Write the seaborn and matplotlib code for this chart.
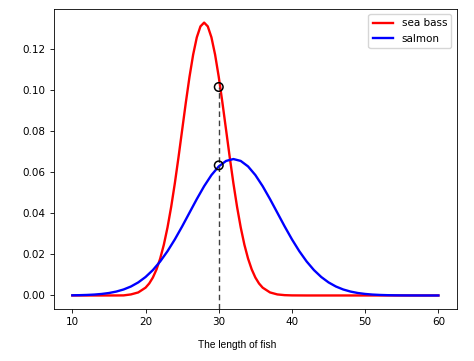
import numpy as np
import pandas as pd
import matplotlib
matplotlib.use("Agg")
import matplotlib.pyplot as plt
import seaborn as sns

# values
bass_x = [10, 12, 14, 16, 17, 18, 19, 20, 20.5, 21, 21.5, 22, 22.5, 23, 23.5, 24, 24.5,
          25, 25.5, 26, 26.5, 27, 27.5, 28, 28.5, 29, 29.5, 30, 30.5, 31, 31.5, 32,
          32.5, 33, 33.5, 34, 34.5, 35, 35.5, 36, 37, 38, 39, 40, 42, 44, 50, 60]
bass_y = [0.0, 0.0, 0.0, 0.00001, 0.00004, 0.00051, 0.00148, 0.0038, 0.00584, 0.00874,
          0.01272, 0.018, 0.02476, 0.03316, 0.04318, 0.05467, 0.06733, 0.08066, 0.09397,
          0.10648, 0.11735, 0.12579, 0.13114, 0.13298, 0.13114, 0.12579, 0.11735, 0.10648,
          0.09397, 0.08066, 0.06733, 0.05467, 0.04318, 0.03316, 0.02476, 0.018, 0.01272,
          0.00874, 0.00584, 0.0038, 0.00148, 0.00051, 0.00016, 0.00004, 0.0, 0.0, 0.0, 0.0]

salmon_x = list(range(10, 61))
salmon_y = [0.00008, 0.00015, 0.00026, 0.00044, 0.00074, 0.0012, 0.0019, 0.00292, 0.00437,
            0.00636, 0.009, 0.01238, 0.01658, 0.02159, 0.02733, 0.03366, 0.04033, 0.04698,
            0.05324, 0.05868, 0.0629, 0.06557, 0.06649, 0.06557, 0.0629, 0.05868, 0.05324,
            0.04698, 0.04033, 0.03366, 0.02733, 0.02159, 0.01658, 0.01238, 0.009, 0.00636,
            0.00437, 0.00292, 0.0019, 0.0012, 0.00074, 0.00044, 0.00026, 0.00015, 0.00008,
            0.00004, 0.00002, 0.00001, 0.0, 0.0, 0.0]

cut_x = 30
cut_y = [0.1016, 0.0634]

bass = pd.DataFrame({"length": bass_x, "density": bass_y})
salmon = pd.DataFrame({"length": salmon_x, "density": salmon_y})

fig, ax = plt.subplots(figsize=(4.74, 3.61), dpi=100)
fig.subplots_adjust(left=0.114, right=0.9635, bottom=0.144, top=0.975)

sns.lineplot(data=bass, x="length", y="density", color="red", lw=1.7,
             label="sea bass", ax=ax, estimator=None)
sns.lineplot(data=salmon, x="length", y="density", color="blue", lw=1.7,
             label="salmon", ax=ax, estimator=None)

ax.set_xlim(7.5, 62.5)
ax.set_ylim(-0.0066, 0.1396)
ax.plot([cut_x, cut_x], [-0.0066, max(cut_y)], color="0.25", lw=1.0,
        dashes=(4, 2.6))
ax.scatter([cut_x] * len(cut_y), cut_y, s=38, facecolors="none",
           edgecolors="black", linewidths=1.1, zorder=5)

ax.set_xlabel("")
ax.set_ylabel("")
ax.tick_params(labelsize=7.5, length=2.6, width=0.6)
for s in ax.spines.values():
    s.set_linewidth(0.6)
ax.legend(loc="upper right", fontsize=7.5)

fig.text(0.5, 0.044, "The length of fish", ha="center", va="center",
         fontsize=7.3, family="Liberation Sans")

plt.savefig("out.png", dpi=100)
